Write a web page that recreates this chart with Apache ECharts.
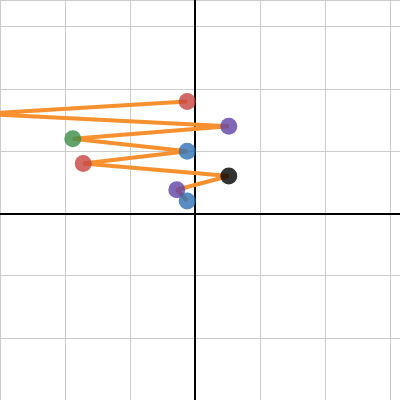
<!DOCTYPE html>
<html>
<head>
<meta charset="utf-8">
<script src="https://cdn.jsdelivr.net/npm/echarts@6/dist/echarts.min.js"></script>
<style>html,body{margin:0;padding:0;background:#fff}#main{width:400px;height:400px}</style>
</head>
<body>
<div id="main"></div>
<script>
// path of the orange line, in order
var pathX = [-0.12, -3.3, 0.52, -1.88, -0.12, -1.72, 0.52, -0.28, -0.12];
var pathY = [1.8, 1.6, 1.4, 1.2, 1.0, 0.8, 0.6, 0.38, 0.2];
// dots drawn on top
var dotX = [-0.12, 0.52, -1.88, -0.12, -1.72, 0.52, -0.28, -0.12];
var dotY = [1.8, 1.4, 1.2, 1.0, 0.8, 0.6, 0.38, 0.2];
var dotColors = ['#c74440', '#6042a6', '#388c46', '#2d70b3', '#c74440', '#000000', '#6042a6', '#2d70b3'];

var chart = echarts.init(document.getElementById('main'));
var linePts = pathX.map(function (x, i) { return [x, pathY[i]]; });
var dots = dotX.map(function (x, i) {
  return { value: [x, dotY[i]], itemStyle: { color: dotColors[i] } };
});
var axisCommon = {
  type: 'value',
  interval: 1,
  axisLabel: { show: false },
  axisTick: { show: false },
  axisLine: { onZero: true, lineStyle: { color: '#000', width: 2 } },
  splitLine: { lineStyle: { color: '#cccccc', width: 1 } }
};
chart.setOption({
  animation: false,
  grid: { left: 0, top: 0, width: 400, height: 418, containLabel: false },
  xAxis: Object.assign({ min: -3, max: 3.154 }, axisCommon),
  yAxis: Object.assign({ min: -3, max: 3.43 }, axisCommon),
  series: [{
    type: 'line',
    data: linePts,
    symbol: 'none',
    lineStyle: { color: '#f7902f', width: 4 },
    clip: false,
    z: 2
  }, {
    type: 'scatter',
    data: dots,
    symbolSize: 17,
    z: 3
  }]
});
</script>
</body>
</html>
